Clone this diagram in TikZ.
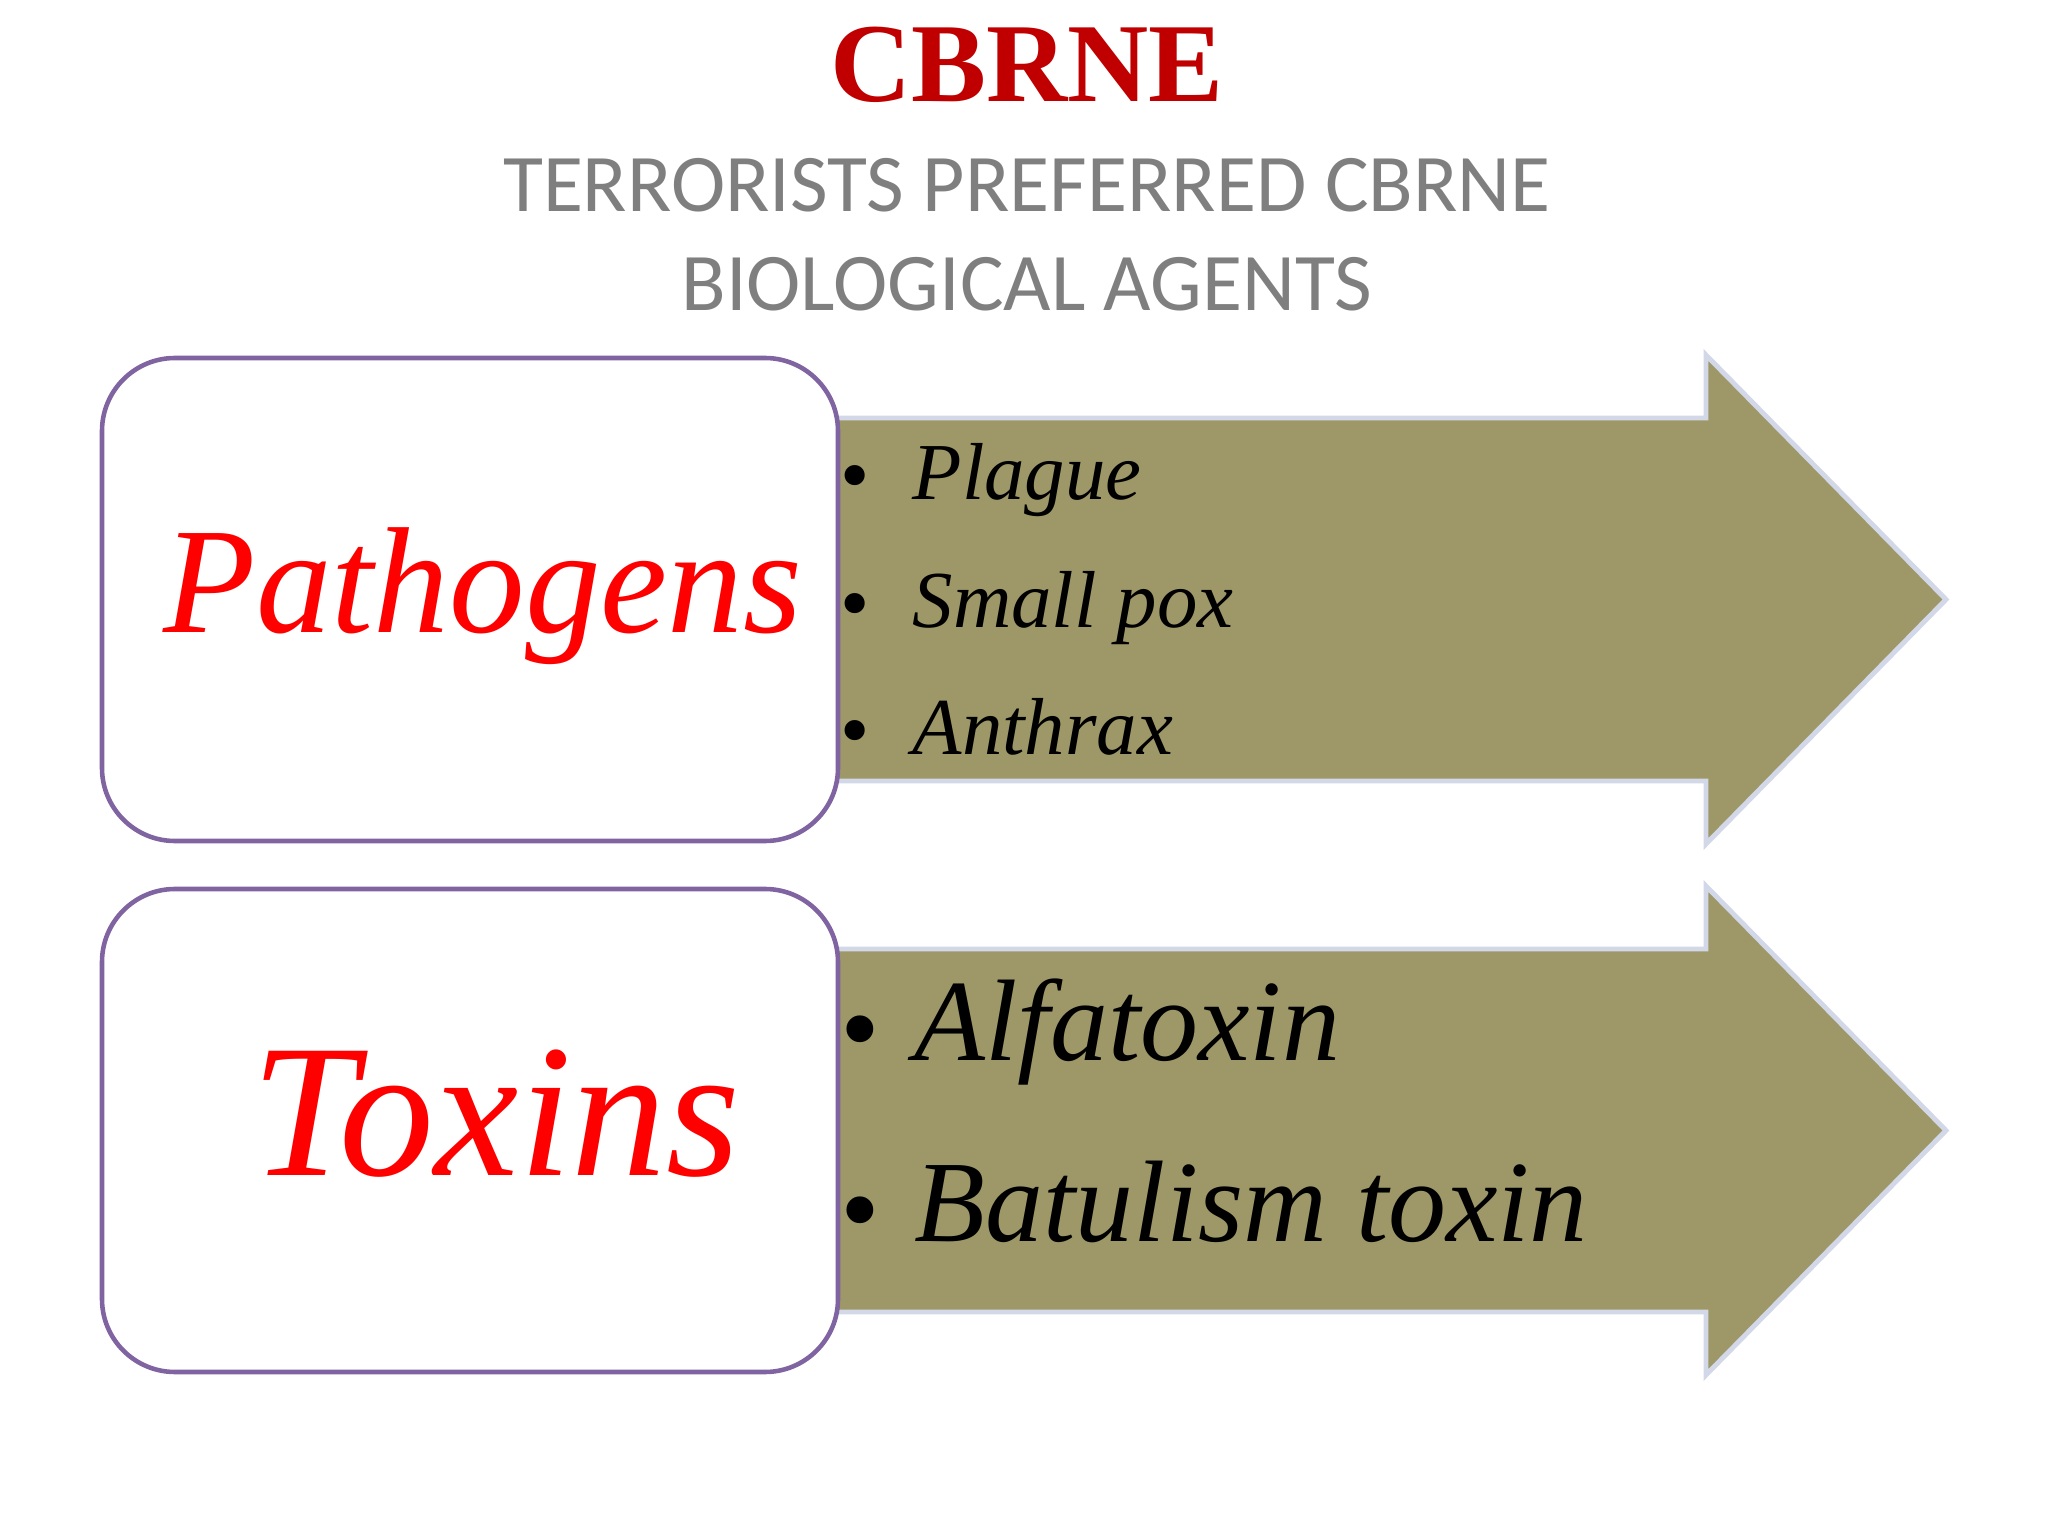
\documentclass[tikz,border=0pt]{standalone}
\usepackage{fontspec}
\setmainfont{Liberation Serif}
\newfontfamily\subtitlefont{Carlito}
\usetikzlibrary{positioning}
\definecolor{titlered}{HTML}{C00000}
\definecolor{subgray}{HTML}{7F7F7F}
\definecolor{boxpurple}{HTML}{8064A2}
\definecolor{arrowolive}{HTML}{9E9868}
\definecolor{arrowedge}{HTML}{D3D8E8}
\newcommand\itemdot[3]{\makebox[#1][l]{\raisebox{#2}{\fontsize{#3}{#3}\selectfont\textbullet}}}
\begin{document}
\begin{tikzpicture}[
  bigarrow/.style={draw=arrowedge, line width=1.4pt, fill=arrowolive, line join=miter},
  groupbox/.style={draw=boxpurple, line width=1.3pt, fill=white, rounded corners=0.73cm,
    minimum width=7.36cm, minimum height=4.83cm},
  grouplabel/.style={text=red, anchor=base, inner sep=0pt, font=\fontsize{#1}{#1}\selectfont\itshape},
  listitem/.style={anchor=base west, inner sep=0pt, font=\fontsize{#1}{#1}\selectfont\itshape}]
\useasboundingbox (0,0) rectangle (20.48,-15.36);
\node[text=titlered, font=\fontsize{32}{32}\selectfont\bfseries, anchor=base] (title) at (10.27,-1.02) {CBRNE};
\node[text=subgray, font=\subtitlefont\fontsize{23.3}{23.3}\selectfont, anchor=base] (sub1) at (10.27,-2.12) {TERRORISTS PREFERRED CBRNE};
\node[text=subgray, font=\subtitlefont\fontsize{23.3}{23.3}\selectfont, anchor=base] (sub2) at (10.27,-3.11) {BIOLOGICAL AGENTS};
\begin{scope}
\path[bigarrow] (7.0,-4.18) -- (17.06,-4.18) -- (17.06,-3.55) -- (19.46,-5.995)
  -- (17.06,-8.44) -- (17.06,-7.81) -- (7.0,-7.81) -- cycle;
\node[groupbox] (pathbox) at (4.70,-5.995) {};
\node[grouplabel=43] (pathogens) at (4.83,-6.33) {Pathogens};
\node[listitem=23] (plague) at (8.39,-4.99) {\itemdot{0.73cm}{-0.04cm}{24}Plague};
\node[listitem=23] (smallpox) at (8.39,-6.27) {\itemdot{0.73cm}{-0.04cm}{24}Small pox};
\node[listitem=23] (anthrax) at (8.39,-7.54) {\itemdot{0.73cm}{-0.04cm}{24}Anthrax};
\end{scope}
\begin{scope}[yshift=-5.31cm]
\path[bigarrow] (7.0,-4.18) -- (17.06,-4.18) -- (17.06,-3.55) -- (19.46,-5.995)
  -- (17.06,-8.44) -- (17.06,-7.81) -- (7.0,-7.81) -- cycle;
\node[groupbox] (toxbox) at (4.70,-5.995) {};
\node[grouplabel=54] (toxins) at (4.96,-6.44) {Toxins};
\node[listitem=33] (alfatoxin) at (8.39,-5.29) {\itemdot{0.75cm}{-0.065cm}{32}Alfatoxin};
\node[listitem=33] (batulism) at (8.39,-7.10) {\itemdot{0.75cm}{-0.065cm}{32}Batulism toxin};
\end{scope}
\end{tikzpicture}
\end{document}
